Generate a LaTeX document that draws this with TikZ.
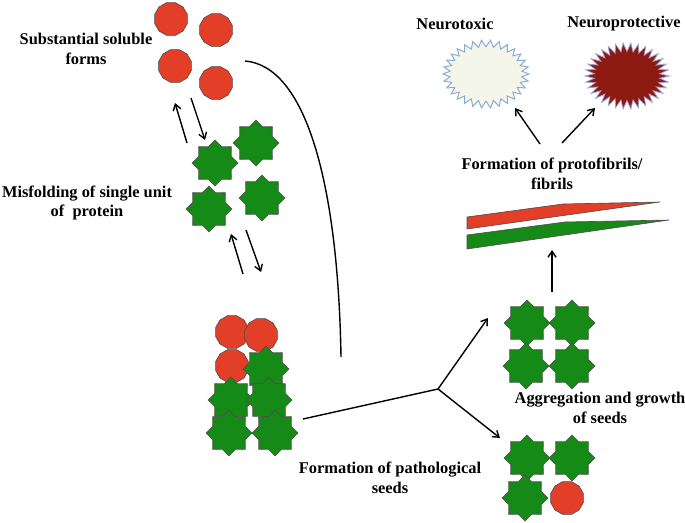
\documentclass[tikz,border=0pt]{standalone}
\usepackage{fontspec}
\setmainfont{Liberation Serif}
\usetikzlibrary{shapes.geometric,arrows.meta}
\definecolor{rbead}{RGB}{226,62,40}
\definecolor{gstar}{RGB}{22,138,22}
\definecolor{toxfill}{RGB}{244,246,234}
\definecolor{toxline}{RGB}{140,172,214}
\definecolor{profill}{RGB}{140,26,16}
\definecolor{proline}{RGB}{120,120,190}
\tikzset{
 redball/.style={regular polygon, regular polygon sides=12, minimum size=34pt, inner sep=0pt, fill=rbead, draw=black!70, line width=0.6pt},
 greenstar/.style={star, star points=8, star point ratio=1.31, minimum size=46pt, inner sep=0pt, fill=gstar, draw=black!70, line width=0.6pt},
 lbl/.style={font=\fontsize{16.4}{19.5}\selectfont\bfseries, align=center, inner sep=0pt},
 arr/.style={line width=1.4pt, -{Straight Barb[length=6pt,width=8pt]}},
 conn/.style={line width=1.4pt}
}
\begin{document}
\begin{tikzpicture}[x=1pt,y=-1pt]
\useasboundingbox (0,0) rectangle (685,522);
% top red soluble forms
\node[redball] (r1) at (171,19) {};
\node[redball] (r2) at (216,30) {};
\node[redball] (r3) at (175,66) {};
\node[redball] (r4) at (216,83) {};
\node[lbl] (tsol) at (86,49) {Substantial soluble\\forms};
% misfolded stars
\node[greenstar] (m1) at (215,163) {};
\node[greenstar] (m2) at (256,143) {};
\node[greenstar] (m3) at (209,209) {};
\node[greenstar] (m4) at (262,198) {};
\node[lbl] (tmis) at (87,203) {Misfolding of single unit\\of\ \ protein};
% bottom-left mixed group
\node[redball] (b1) at (232,332) {};
\node[redball] (b2) at (261,335) {};
\node[redball] (b3) at (232,366) {};
\node[greenstar] (b4) at (266,369) {};
\node[greenstar] (b5) at (231,400) {};
\node[greenstar] (b6) at (269,400) {};
\node[greenstar] (b7) at (229,433) {};
\node[greenstar] (b8) at (275,433) {};
\node[lbl] (tpath) at (390,478) {Formation of pathological\\seeds};
% aggregation group
\node[greenstar] (a1) at (527,323) {};
\node[greenstar] (a2) at (572,323) {};
\node[greenstar] (a3) at (526,366) {};
\node[greenstar] (a4) at (572,366) {};
\node[lbl] (tagg) at (600,408) {Aggregation and growth\\of seeds};
% lower right seeds group
\node[greenstar] (s1) at (527,458) {};
\node[greenstar] (s2) at (572,458) {};
\node[greenstar] (s3) at (525,498) {};
\node[redball] (s4) at (567,498) {};
% fibrils
\fill[rbead, draw=black!70, line width=0.6pt] (467,217) -- (563,204) -- (660,202) -- (467,229) -- cycle;
\fill[gstar, draw=black!70, line width=0.6pt] (467,235) -- (565,222) -- (669,220) -- (467,249) -- cycle;
\node[lbl] (tfib) at (552,174) {Formation of protofibrils/\\fibrils};
% starbursts
\begin{scope}[shift={(486,74)}]
\filldraw[fill=toxfill, draw=toxline, line width=1pt]
  plot[domain=0:360, samples=61, variable=\t] ({43*(0.92+0.08*cos(30*\t))*cos(\t)}, {34*(0.9+0.1*cos(30*\t))*sin(\t)}) -- cycle;
\end{scope}
\begin{scope}[shift={(627,76)}]
\filldraw[fill=profill, draw=proline!70, line width=0.8pt]
  plot[domain=0:360, samples=69, variable=\t] ({42*(0.89+0.11*cos(34*\t))*cos(\t)}, {33*(0.87+0.13*cos(34*\t))*sin(\t)}) -- cycle;
\end{scope}
\node[lbl] (ttox) at (455,24) {Neurotoxic};
\node[lbl] (tpro) at (624,24) {Neuroprotective};
% arrow end coordinates
\coordinate (u1a) at (187,143); \coordinate (u1b) at (175,103);
\coordinate (d1a) at (191,98);  \coordinate (d1b) at (205,140);
\coordinate (u2a) at (243,274); \coordinate (u2b) at (231,234);
\coordinate (d2a) at (246,230); \coordinate (d2b) at (261,272);
\coordinate (cs) at (245,61); \coordinate (ce) at (341,357);
\coordinate (ls) at (303,419); \coordinate (br) at (438,389);
\coordinate (bu) at (488,318); \coordinate (bd) at (500,438);
\coordinate (fa) at (552,292); \coordinate (fb) at (552,250);
\coordinate (la) at (540,144); \coordinate (lb) at (515,108);
\coordinate (ra) at (562,143); \coordinate (rb) at (595,108);
% connectors
\draw[arr] (u1a) -- (u1b);
\draw[arr] (d1a) -- (d1b);
\draw[arr] (u2a) -- (u2b);
\draw[arr] (d2a) -- (d2b);
\draw[conn] (cs) .. controls (305,66) and (338,180) .. (ce);
\draw[conn] (ls) -- (br);
\draw[arr] (br) -- (bu);
\draw[arr] (br) -- (bd);
\draw[arr] (fa) -- (fb);
\draw[arr] (la) -- (lb);
\draw[arr] (ra) -- (rb);
\end{tikzpicture}
\end{document}
